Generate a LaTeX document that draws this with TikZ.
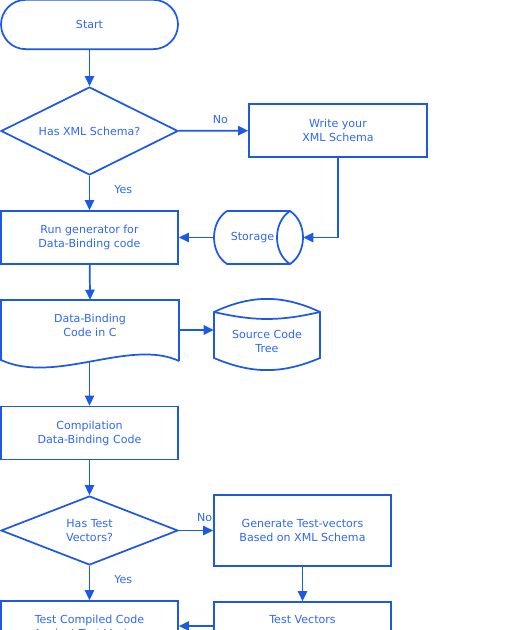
\documentclass[tikz,border=0pt]{standalone}
\usepackage{fontspec}
\setmainfont{DejaVu Sans}
\usetikzlibrary{shapes.geometric,arrows.meta}
\definecolor{flowline}{RGB}{28,90,230}
\definecolor{flowtext}{RGB}{45,105,245}
\tikzset{
  x=0.75pt, y=-0.75pt,
  every node/.style={font=\fontsize{8.3}{10.5}\selectfont, text=flowtext, align=center, inner sep=0pt},
  line/.style={draw=flowline, line width=1.3pt},
  arr/.style={line, -{Triangle[length=7.5pt,width=7pt]}},
  box/.style={line, rectangle, minimum width=132.75pt, minimum height=39.75pt},
  decision/.style={line, diamond, aspect=2, minimum width=132.75pt},
  yesno/.style={font=\fontsize{8.3}{10}\selectfont},
}
\begin{document}
\begin{tikzpicture}
  \clip (0,0) rectangle (517,630);
  \fill[white] (0,0) rectangle (517,630);
  % start and first question
  \node[line, rectangle, rounded corners=18.5pt, minimum width=132.75pt, minimum height=37pt] (start) at (89.5,24.5) {Start};
  \node[decision, minimum height=66pt] (hasxsd) at (89.5,131) {Has XML Schema?};
  \node[box, minimum width=133.5pt] (write) at (338,130.5) {Write your\\XML Schema};
  \node[box] (rungen) at (89.5,237.5) {Run generator for\\Data-Binding code};
  % storage
  \node[minimum width=66.75pt, minimum height=39.75pt] (stor) at (258.5,237.5) {Storage\hspace*{9pt}};
  \draw[line] (227,211) -- (290,211) to[bend left=57] (290,264) -- (227,264) to[bend left=57] (227,211);
  \draw[line] (290,211) to[bend right=57] (290,264);
  % data-binding code document
  \node[minimum width=133.5pt, minimum height=45pt, label={[yshift=3.75pt]center:Data-Binding\\Code in C}] (dbc) at (90,330) {};
  \draw[line] (179,361) -- (179,300) -- (1,300) -- (1,360) .. controls (55,385) and (130,338) .. (179,361);
  \coordinate (dbcS) at (89.5,362);
  % source code tree
  \node[minimum width=79.5pt, minimum height=34.5pt, label={[yshift=-4.5pt]center:Source Code\\Tree}] (sct) at (267,335) {};
  \draw[line] (214,312) to[bend left=25] (320,312) -- (320,358) to[bend left=23] (214,358) -- cycle;
  \draw[line] (214,312) to[bend right=13] (320,312);
  % compile and second question
  \node[box] (comp) at (89.5,433) {Compilation\\Data-Binding Code};
  \node[decision, minimum height=51.75pt] (hastv) at (89.5,530.5) {Has Test\\Vectors?};
  \node[box, minimum height=53.25pt] (gentv) at (302.5,530.5) {Generate Test-vectors\\Based on XML Schema};
  \node[box, minimum height=39pt] (testc) at (89.5,627) {Test Compiled Code\\Against Test Vectors};
  \node[box, minimum height=36pt, label={[yshift=4.5pt]center:Test Vectors}] (tvec) at (302.5,626) {};
  % connectors
  \draw[arr] (start) -- (hasxsd);
  \draw[arr] (hasxsd) -- (write) node[pos=0.6, above=5pt, yesno] {No};
  \draw[arr] (hasxsd) -- (rungen) node[pos=0.4, right=18pt, yesno] {Yes};
  \draw[arr] (write.south) |- (stor.east);
  \draw[arr] (stor.west) -- (rungen.east);
  \draw[arr] (rungen) -- (dbc.north);
  \draw[arr] (dbc.east) -- (sct.west |- dbc.east);
  \draw[arr] (dbcS) -- (comp);
  \draw[arr] (comp) -- (hastv);
  \draw[arr] (hastv) -- (gentv) node[pos=0.75, above=6pt, yesno] {No};
  \draw[arr] (hastv) -- (testc) node[pos=0.4, right=18pt, yesno] {Yes};
  \draw[arr] (gentv) -- (tvec);
  \draw[arr] (tvec.west) -- (testc.east |- tvec.west);
\end{tikzpicture}
\end{document}
